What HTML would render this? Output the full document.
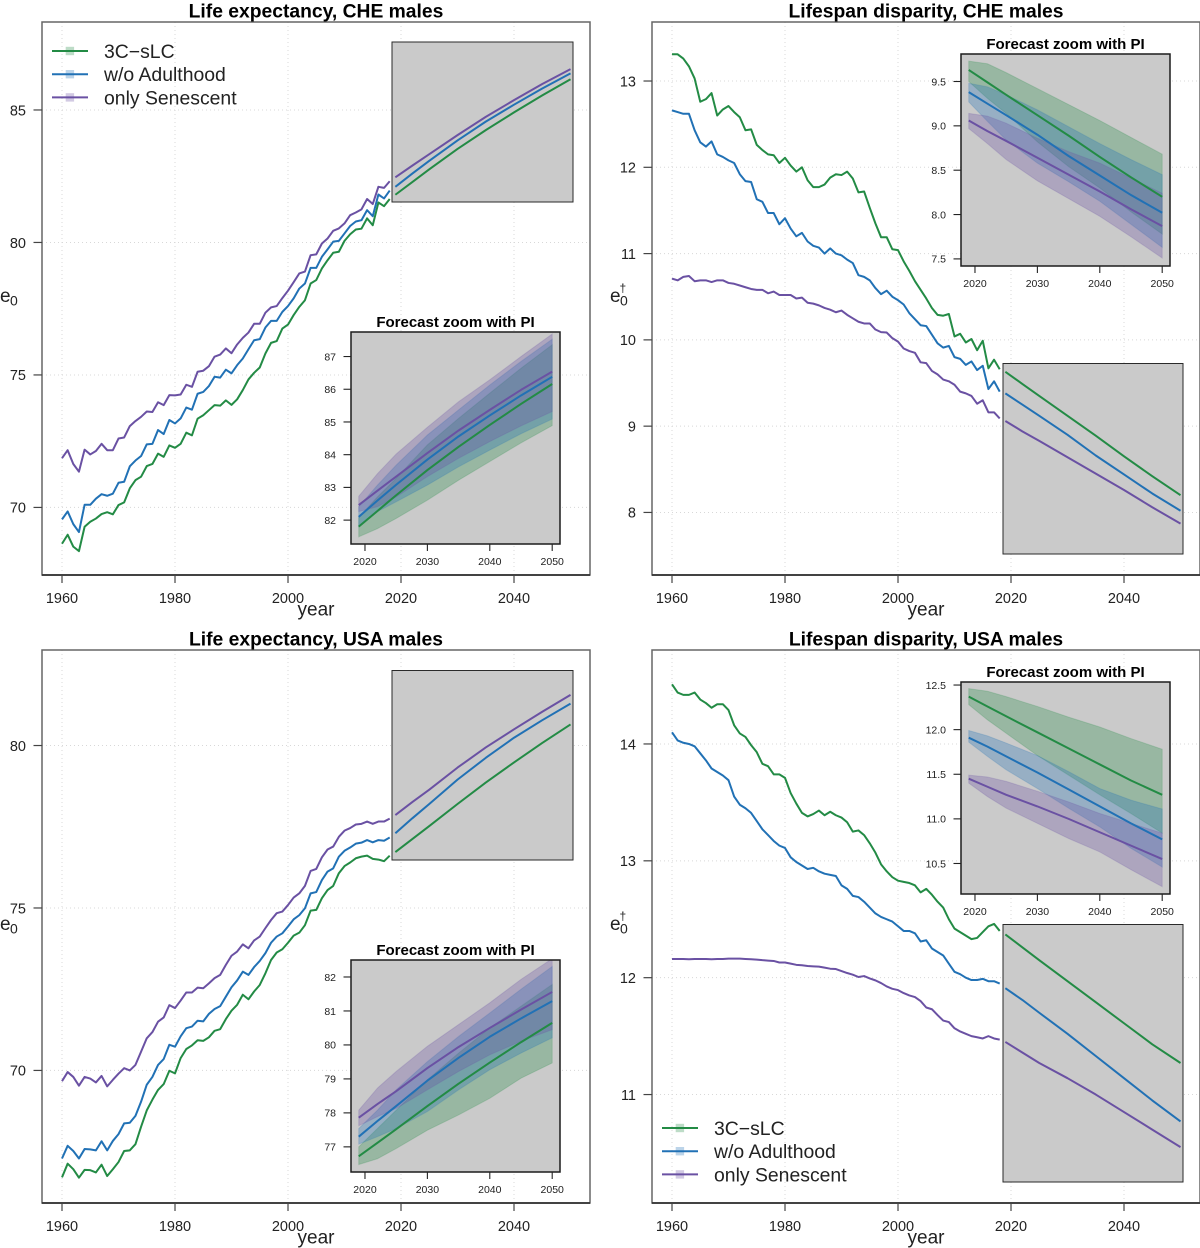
<!DOCTYPE html>
<html lang="en">
<head>
<meta charset="utf-8">
<title>Life expectancy and lifespan disparity forecasts</title>
<style>
  html, body { margin: 0; padding: 0; background: #fff; }
  svg { display: block; font-family: "Liberation Sans", Arial, sans-serif; }
</style>
</head>
<body>
<svg id="chart" xmlns="http://www.w3.org/2000/svg" width="1200" height="1248" viewBox="0 0 1200 1248"></svg>
<script>
// ---------- categories ----------
const historyYears = [
  1960,1961,1962,1963,1964,1965,1966,1967,1968,1969,
  1970,1971,1972,1973,1974,1975,1976,1977,1978,1979,
  1980,1981,1982,1983,1984,1985,1986,1987,1988,1989,
  1990,1991,1992,1993,1994,1995,1996,1997,1998,1999,
  2000,2001,2002,2003,2004,2005,2006,2007,2008,2009,
  2010,2011,2012,2013,2014,2015,2016,2017,2018];
const forecastYears = [2019,2022,2025,2030,2035,2040,2045,2050];
const seriesNames = ['3C\u2212sLC','w/o Adulthood','only Senescent'];

// ---------- tick labels ----------
const mainXTicks = [1960,1980,2000,2020,2040];
const insetXTicks = [2020,2030,2040,2050];
const cheE0Ticks = [70,75,80,85];
const cheDispTicks = [8,9,10,11,12,13];
const usaE0Ticks = [70,75,80];
const usaDispTicks = [11,12,13,14];
const cheE0InsetTicks = [82,83,84,85,86,87];
const cheDispInsetTicks = ['7.5','8.0','8.5','9.0','9.5'];
const usaE0InsetTicks = [77,78,79,80,81,82];
const usaDispInsetTicks = ['10.5','11.0','11.5','12.0','12.5'];

// ---------- Life expectancy, CHE: history ----------
const cheE0Green = [
  68.63,68.97,68.52,68.35,69.27,69.46,69.58,69.75,69.82,69.74,
  70.09,70.19,70.72,71.03,71.16,71.56,71.64,72.03,71.91,72.34,
  72.25,72.40,72.82,72.72,73.35,73.48,73.67,73.86,73.84,74.04,
  73.87,74.08,74.43,74.83,75.08,75.28,75.81,76.21,76.28,76.75,
  76.90,77.26,77.57,77.82,78.45,78.58,79.02,79.33,79.61,79.65,
  80.06,80.31,80.49,80.52,80.91,80.65,81.51,81.37,81.64];
const cheE0Blue = [
  69.55,69.85,69.37,69.07,70.10,70.10,70.33,70.50,70.44,70.52,
  70.93,70.97,71.55,71.77,71.94,72.38,72.40,72.92,72.77,73.30,
  73.17,73.36,73.77,73.69,74.29,74.36,74.58,74.93,74.90,75.20,
  75.06,75.37,75.62,75.97,76.31,76.35,76.79,77.04,77.04,77.38,
  77.60,77.89,78.26,78.45,79.04,79.04,79.46,79.74,80.03,80.06,
  80.34,80.62,80.79,80.84,81.22,80.99,81.81,81.66,81.96];
const cheE0Purple = [
  71.86,72.16,71.64,71.35,72.18,72.00,72.13,72.40,72.16,72.16,
  72.60,72.64,73.07,73.26,73.42,73.62,73.60,73.97,73.86,74.24,
  74.23,74.26,74.63,74.55,75.12,75.16,75.33,75.69,75.77,76.00,
  75.82,76.15,76.40,76.60,76.93,76.93,77.35,77.55,77.60,77.90,
  78.18,78.50,78.83,78.90,79.52,79.55,79.96,80.15,80.44,80.53,
  80.72,81.03,81.13,81.25,81.64,81.45,82.10,82.06,82.31];
// forecast and prediction intervals
const cheE0FcGreen = [81.80,82.28,82.76,83.53,84.24,84.91,85.55,86.16];
const cheE0FcBlue = [82.10,82.60,83.08,83.85,84.56,85.20,85.81,86.38];
const cheE0FcPurple = [82.46,82.90,83.33,84.05,84.74,85.37,85.98,86.54];
const cheE0HiGreen = [82.08,82.71,83.28,84.30,85.11,85.88,86.64,87.36];
const cheE0LoGreen = [81.49,81.74,82.05,82.61,83.22,83.79,84.36,84.89];
const cheE0HiBlue = [82.41,83.07,83.68,84.60,85.37,86.13,86.85,87.53];
const cheE0LoBlue = [81.80,82.26,82.56,83.07,83.63,84.14,84.64,85.09];
const cheE0HiPurple = [82.73,83.42,84.02,84.84,85.62,86.29,87.00,87.69];
const cheE0LoPurple = [82.26,82.41,82.71,83.33,83.89,84.40,84.88,85.32];

// ---------- Lifespan disparity, CHE: history ----------
const cheDispGreen = [
  13.31,13.31,13.26,13.17,13.03,12.76,12.79,12.86,12.60,12.67,
  12.71,12.64,12.58,12.43,12.44,12.26,12.20,12.15,12.14,12.05,
  12.11,12.02,11.95,12.00,11.85,11.77,11.77,11.80,11.88,11.92,
  11.91,11.95,11.87,11.71,11.72,11.53,11.35,11.19,11.19,11.05,
  11.04,10.91,10.80,10.68,10.58,10.48,10.37,10.29,10.28,10.30,
  10.04,10.07,9.97,10.01,9.88,9.99,9.67,9.77,9.66];
const cheDispBlue = [
  12.66,12.64,12.62,12.62,12.43,12.29,12.24,12.30,12.15,12.12,
  12.08,12.05,11.92,11.84,11.83,11.63,11.60,11.47,11.47,11.34,
  11.41,11.29,11.20,11.24,11.14,11.09,11.07,11.00,11.06,11.00,
  10.98,10.93,10.89,10.75,10.73,10.69,10.60,10.53,10.57,10.50,
  10.46,10.41,10.31,10.24,10.17,10.16,10.06,9.96,9.91,9.93,
  9.80,9.78,9.71,9.75,9.65,9.70,9.43,9.52,9.40];
const cheDispPurple = [
  10.71,10.69,10.73,10.74,10.68,10.69,10.69,10.67,10.69,10.69,
  10.66,10.65,10.63,10.61,10.59,10.58,10.58,10.54,10.56,10.52,
  10.52,10.52,10.48,10.49,10.43,10.42,10.40,10.37,10.35,10.32,
  10.34,10.29,10.25,10.21,10.19,10.19,10.12,10.09,10.085,10.02,
  9.98,9.90,9.87,9.85,9.74,9.73,9.64,9.60,9.54,9.52,
  9.48,9.40,9.38,9.35,9.26,9.30,9.16,9.16,9.09];
const cheDispFcGreen = [9.63,9.49,9.35,9.12,8.89,8.65,8.42,8.20];
const cheDispFcBlue = [9.38,9.25,9.12,8.90,8.66,8.44,8.22,8.02];
const cheDispFcPurple = [9.06,8.94,8.83,8.64,8.45,8.26,8.06,7.87];
const cheDispHiGreen = [9.73,9.70,9.60,9.42,9.24,9.06,8.87,8.68];
const cheDispLoGreen = [9.50,9.31,9.14,8.82,8.54,8.30,8.03,7.78];
const cheDispHiBlue = [9.48,9.44,9.35,9.18,8.99,8.80,8.62,8.45];
const cheDispLoBlue = [9.27,9.05,8.84,8.58,8.37,8.15,7.89,7.63];
const cheDispHiPurple = [9.14,9.11,9.03,8.86,8.71,8.58,8.41,8.24];
const cheDispLoPurple = [8.97,8.80,8.62,8.38,8.18,7.98,7.75,7.51];

// ---------- Life expectancy, USA: history ----------
const usaE0Green = [
  66.71,67.13,66.96,66.70,66.94,66.93,66.86,67.10,66.75,66.96,
  67.18,67.52,67.54,67.73,68.27,68.77,69.10,69.40,69.58,69.99,
  69.91,70.38,70.66,70.77,70.93,70.91,71.02,71.22,71.27,71.58,
  71.84,72.02,72.33,72.19,72.43,72.63,72.99,73.40,73.63,73.73,
  73.93,74.15,74.24,74.47,74.92,74.94,75.30,75.55,75.68,76.07,
  76.29,76.40,76.53,76.58,76.61,76.51,76.49,76.44,76.61];
const usaE0Blue = [
  67.29,67.68,67.52,67.29,67.58,67.57,67.54,67.82,67.54,67.83,
  68.04,68.37,68.39,68.60,69.04,69.56,69.80,70.17,70.35,70.79,
  70.73,71.05,71.30,71.35,71.53,71.51,71.74,71.89,71.98,72.27,
  72.56,72.77,73.04,72.94,73.18,73.37,73.61,73.93,74.12,74.22,
  74.43,74.65,74.78,74.99,75.45,75.49,75.86,76.12,76.22,76.58,
  76.76,76.86,76.98,77.01,77.09,77.02,77.09,77.07,77.17];
const usaE0Purple = [
  69.67,69.95,69.80,69.53,69.80,69.75,69.63,69.83,69.51,69.71,
  69.90,70.07,70.00,70.17,70.58,70.99,71.18,71.50,71.63,72.01,
  71.92,72.15,72.40,72.40,72.55,72.53,72.68,72.84,72.94,73.25,
  73.53,73.66,73.88,73.76,74.00,74.12,74.38,74.63,74.84,74.89,
  75.09,75.32,75.45,75.68,76.14,76.20,76.56,76.80,76.89,77.19,
  77.38,77.46,77.57,77.59,77.66,77.59,77.66,77.66,77.75];
const usaE0FcGreen = [76.72,77.12,77.52,78.20,78.86,79.48,80.08,80.65];
const usaE0FcBlue = [77.30,77.76,78.20,78.95,79.62,80.24,80.78,81.29];
const usaE0FcPurple = [77.86,78.26,78.64,79.32,79.94,80.50,81.04,81.56];
const usaE0HiGreen = [77.00,77.54,78.08,78.97,79.76,80.50,81.14,81.78];
const usaE0LoGreen = [76.48,76.65,76.95,77.49,77.94,78.43,79.02,79.47];
const usaE0HiBlue = [77.54,78.08,78.68,79.51,80.25,80.94,81.64,82.31];
const usaE0LoBlue = [77.08,77.30,77.54,78.04,78.68,79.27,79.76,80.21];
const usaE0HiPurple = [78.08,78.73,79.22,79.96,80.60,81.24,81.93,82.54];
const usaE0LoPurple = [77.62,77.89,78.13,78.68,79.22,79.71,80.11,80.45];

// ---------- Lifespan disparity, USA: history ----------
const usaDispGreen = [
  14.51,14.44,14.42,14.42,14.44,14.38,14.35,14.31,14.34,14.34,
  14.29,14.16,14.09,14.06,13.99,13.93,13.83,13.81,13.74,13.74,
  13.71,13.58,13.49,13.41,13.38,13.40,13.43,13.39,13.42,13.39,
  13.37,13.33,13.25,13.26,13.22,13.15,13.07,12.97,12.91,12.86,
  12.83,12.82,12.81,12.79,12.73,12.76,12.71,12.65,12.60,12.50,
  12.42,12.39,12.36,12.33,12.34,12.39,12.44,12.46,12.40];
const usaDispBlue = [
  14.10,14.03,14.01,14.00,13.98,13.92,13.86,13.79,13.76,13.73,
  13.69,13.55,13.48,13.45,13.41,13.34,13.27,13.22,13.17,13.13,
  13.11,13.03,12.99,12.96,12.93,12.94,12.91,12.89,12.88,12.87,
  12.79,12.76,12.70,12.69,12.65,12.60,12.55,12.52,12.50,12.48,
  12.44,12.40,12.40,12.38,12.31,12.32,12.25,12.22,12.19,12.12,
  12.05,12.03,12.00,11.98,11.98,11.99,11.97,11.97,11.95];
const usaDispPurple = [
  12.16,12.16,12.16,12.158,12.16,12.16,12.16,12.158,12.16,12.16,
  12.163,12.163,12.163,12.16,12.158,12.155,12.15,12.146,12.143,12.13,
  12.13,12.12,12.11,12.106,12.10,12.097,12.095,12.086,12.077,12.074,
  12.057,12.04,12.026,12.006,12.014,11.994,11.977,11.954,11.925,11.905,
  11.894,11.868,11.848,11.834,11.80,11.745,11.73,11.68,11.633,11.62,
  11.567,11.54,11.52,11.50,11.49,11.48,11.50,11.48,11.47];
const usaDispFcGreen = [12.37,12.26,12.15,11.97,11.79,11.61,11.43,11.27];
const usaDispFcBlue = [11.91,11.81,11.70,11.52,11.33,11.14,10.95,10.77];
const usaDispFcPurple = [11.45,11.36,11.27,11.14,11.00,10.85,10.70,10.55];
const usaDispHiGreen = [12.46,12.43,12.37,12.26,12.14,12.03,11.90,11.78];
const usaDispLoGreen = [12.28,12.11,11.96,11.71,11.49,11.27,11.06,10.84];
const usaDispHiBlue = [11.99,11.93,11.85,11.71,11.53,11.34,11.21,11.11];
const usaDispLoBlue = [11.86,11.70,11.55,11.34,11.12,10.91,10.67,10.46];
const usaDispHiPurple = [11.49,11.47,11.42,11.31,11.19,11.06,10.95,10.84];
const usaDispLoPurple = [11.40,11.25,11.12,10.95,10.78,10.63,10.43,10.24];

// ---------- drawing ----------
const COLORS = ['#238b45', '#2171b5', '#6a51a3'];
const SLUGS = ['3c-slc', 'without-adulthood', 'only-senescent'];
const NS = 'http://www.w3.org/2000/svg';
const root = document.getElementById('chart');

function make(parent, tag, props, text) {
  const el = document.createElementNS(NS, tag);
  for (const k in props) el.setAttribute(k, props[k]);
  if (text !== undefined) el.textContent = text;
  parent.appendChild(el);
  return el;
}
function linear(d0, d1, r0, r1) {
  return v => r0 + (Number(v) - d0) * (r1 - r0) / (d1 - d0);
}
function pathOf(xs, ys, sx, sy) {
  return xs.map((x, i) => (i ? 'L' : 'M') + sx(x).toFixed(2) + ' ' + sy(ys[i]).toFixed(2)).join('');
}
function bandOf(xs, hi, lo, sx, sy) {
  const up = xs.map((x, i) => (i ? 'L' : 'M') + sx(x).toFixed(2) + ' ' + sy(hi[i]).toFixed(2)).join('');
  const down = xs.slice().reverse().map((x, i) => 'L' + sx(x).toFixed(2) + ' ' + sy(lo[xs.length - 1 - i]).toFixed(2)).join('');
  return up + down + 'Z';
}

function drawPanel(p) {
  const g = make(root, 'g', {});
  
  

  const sx = linear(1956.46, 2053.45, p.box[0], p.box[2]);
  const sy = linear(p.yDomain[0], p.yDomain[1], p.box[3], p.box[1]);

  // grid
  mainXTicks.forEach(t => {
    const el = make(g, 'line', {x1: sx(t), x2: sx(t), y1: p.box[1], y2: p.box[3], stroke: '#d8d8d8', 'stroke-width': 1, 'stroke-dasharray': '1 3'});
    
    
  });
  p.yTicks.forEach(t => {
    const el = make(g, 'line', {x1: p.box[0], x2: p.box[2], y1: sy(t), y2: sy(t), stroke: '#d8d8d8', 'stroke-width': 1, 'stroke-dasharray': '1 3'});
    
    
  });

  // history lines
  p.history.forEach((vals, i) => {
    const el = make(g, 'path', {d: pathOf(historyYears, vals, sx, sy), fill: 'none', stroke: COLORS[i], 'stroke-width': 2, 'stroke-linejoin': 'round'});
    
    
  });

  // grey forecast rectangle
  const gr = make(g, 'rect', {x: p.grey[0], y: p.grey[1], width: p.grey[2] - p.grey[0], height: p.grey[3] - p.grey[1], fill: '#cacaca', stroke: '#2a2a2a', 'stroke-width': 1});
  
  

  // forecast lines in main coordinates
  p.forecast.forEach((vals, i) => {
    const el = make(g, 'path', {d: pathOf(forecastYears, vals, sx, sy), fill: 'none', stroke: COLORS[i], 'stroke-width': 2, 'stroke-linejoin': 'round'});
    
    
  });

  // frame and axes
  const frame = make(g, 'rect', {x: p.box[0], y: p.box[1], width: p.box[2] - p.box[0], height: p.box[3] - p.box[1], fill: 'none', stroke: '#666', 'stroke-width': 1.5});
  
  
  const xAxis = make(g, 'line', {x1: p.box[0], x2: p.box[2], y1: p.box[3], y2: p.box[3], stroke: '#333', 'stroke-width': 1.7});
  
  

  mainXTicks.forEach(t => {
    const tick = make(g, 'line', {x1: sx(t), x2: sx(t), y1: p.box[3], y2: p.box[3] + 8, stroke: '#444', 'stroke-width': 1.2});
    
    
    const lab = make(g, 'text', {x: sx(t), y: p.box[3] + 28, 'text-anchor': 'middle', 'font-size': 14.5, fill: '#222'}, t);
    
    
  });
  p.yTicks.forEach(t => {
    const tick = make(g, 'line', {x1: p.box[0] - 8.5, x2: p.box[0], y1: sy(t), y2: sy(t), stroke: '#444', 'stroke-width': 1.2});
    
    
    const lab = make(g, 'text', {x: p.box[0] - 16, y: sy(t) + 5.3, 'text-anchor': 'end', 'font-size': 14.5, fill: '#222'}, t);
    
    
  });

  // titles
  const title = make(g, 'text', {x: (p.box[0] + p.box[2]) / 2, y: p.box[1] - 4.5, 'text-anchor': 'middle', 'font-size': 19.3, 'font-weight': 'bold', fill: '#000'}, p.title);
  
  
  const xt = make(g, 'text', {x: (p.box[0] + p.box[2]) / 2, y: p.box[3] + 40.5, 'text-anchor': 'middle', 'font-size': 19, fill: '#222'}, 'year');
  
  

  // y-axis title: e with subscript 0, plus dagger on disparity panels
  const lx = p.box[0] - 42;
  const ly = p.labelY;
  const e = make(g, 'text', {x: lx, y: ly, 'font-size': 19, fill: '#222'}, 'e');
  
  
  const sub = make(g, 'text', {x: lx + 10, y: ly + 3.5, 'font-size': 14, fill: '#222'}, '0');
  
  
  if (p.dagger) {
    const d = make(g, 'text', {x: lx + 9.5, y: ly - 10, 'font-size': 12, fill: '#222'}, '\u2020');
    
    
  }

  drawInset(g, p);
  if (p.legend) drawLegend(g, p);
}

function drawInset(g, p) {
  const b = p.inset.box;
  const sx = linear(2017.76, 2051.25, b[0], b[2]);
  const sy = linear(p.inset.yDomain[0], p.inset.yDomain[1], b[3], b[1]);
  const ig = make(g, 'g', {});
  
  

  const bg = make(ig, 'rect', {x: b[0], y: b[1], width: b[2] - b[0], height: b[3] - b[1], fill: '#cacaca'});
  
  

  const clipId = p.slug + '-inset-clip';
  const clip = make(ig, 'clipPath', {id: clipId});
  make(clip, 'rect', {x: b[0], y: b[1], width: b[2] - b[0], height: b[3] - b[1]});

  const marks = make(ig, 'g', {'clip-path': 'url(#' + clipId + ')'});
  p.inset.hi.forEach((hi, i) => {
    const el = make(marks, 'path', {d: bandOf(forecastYears, hi, p.inset.lo[i], sx, sy), fill: COLORS[i], 'fill-opacity': 0.3, stroke: COLORS[i], 'stroke-opacity': 0.2, 'stroke-width': 1});
    
    
  });
  p.forecast.forEach((vals, i) => {
    const el = make(marks, 'path', {d: pathOf(forecastYears, vals, sx, sy), fill: 'none', stroke: COLORS[i], 'stroke-width': 2, 'stroke-linejoin': 'round'});
    
    
  });

  const border = make(ig, 'rect', {x: b[0], y: b[1], width: b[2] - b[0], height: b[3] - b[1], fill: 'none', stroke: '#1c1c1c', 'stroke-width': 1.5});
  
  

  insetXTicks.forEach(t => {
    const tick = make(ig, 'line', {x1: sx(t), x2: sx(t), y1: b[3], y2: b[3] + 7, stroke: '#222', 'stroke-width': 1.1});
    
    
    const lab = make(ig, 'text', {x: sx(t), y: b[3] + 21, 'text-anchor': 'middle', 'font-size': 10.5, fill: '#222'}, t);
    
    
  });
  p.inset.yTicks.forEach(t => {
    const tick = make(ig, 'line', {x1: b[0] - 7.5, x2: b[0], y1: sy(t), y2: sy(t), stroke: '#222', 'stroke-width': 1.1});
    
    
    const lab = make(ig, 'text', {x: b[0] - 15, y: sy(t) + 3.8, 'text-anchor': 'end', 'font-size': 10.5, fill: '#222'}, t);
    
    
  });
  const title = make(ig, 'text', {x: (b[0] + b[2]) / 2, y: b[1] - 5, 'text-anchor': 'middle', 'font-size': 15, 'font-weight': 'bold', fill: '#000'}, 'Forecast zoom with PI');
  
  
}

function drawLegend(g, p) {
  const lg = make(g, 'g', {});
  
  
  seriesNames.forEach((name, i) => {
    const y = p.legend.y + i * 23.2;
    const sw = make(lg, 'rect', {x: p.legend.x + 13.7, y: y - 4.2, width: 8.4, height: 8.4, fill: COLORS[i], 'fill-opacity': 0.3});
    
    
    const ln = make(lg, 'line', {x1: p.legend.x, x2: p.legend.x + 36, y1: y, y2: y, stroke: COLORS[i], 'stroke-width': 2});
    
    
    const tx = make(lg, 'text', {x: p.legend.x + 52, y: y + 7, 'font-size': 19.4, fill: '#222'}, name);
    
    
  });
}

drawPanel({
  slug: 'che-life-expectancy', title: 'Life expectancy, CHE males',
  box: [42, 22, 590, 575], yDomain: [67.45, 88.32], yTicks: cheE0Ticks,
  labelY: 302, dagger: false,
  grey: [392, 42, 573, 202],
  history: [cheE0Green, cheE0Blue, cheE0Purple],
  forecast: [cheE0FcGreen, cheE0FcBlue, cheE0FcPurple],
  inset: { box: [351, 332, 560, 544], yDomain: [81.27, 87.75], yTicks: cheE0InsetTicks,
    hi: [cheE0HiGreen, cheE0HiBlue, cheE0HiPurple], lo: [cheE0LoGreen, cheE0LoBlue, cheE0LoPurple] },
  legend: { x: 52, y: 51 }
});
drawPanel({
  slug: 'che-lifespan-disparity', title: 'Lifespan disparity, CHE males',
  box: [652, 22, 1200, 575], yDomain: [7.275, 13.684], yTicks: cheDispTicks,
  labelY: 302, dagger: true,
  grey: [1003, 363.5, 1183, 554],
  history: [cheDispGreen, cheDispBlue, cheDispPurple],
  forecast: [cheDispFcGreen, cheDispFcBlue, cheDispFcPurple],
  inset: { box: [961, 54, 1170, 266], yDomain: [7.42, 9.81], yTicks: cheDispInsetTicks,
    hi: [cheDispHiGreen, cheDispHiBlue, cheDispHiPurple], lo: [cheDispLoGreen, cheDispLoBlue, cheDispLoPurple] }
});
drawPanel({
  slug: 'usa-life-expectancy', title: 'Life expectancy, USA males',
  box: [42, 650, 590, 1203], yDomain: [65.92, 82.94], yTicks: usaE0Ticks,
  labelY: 930, dagger: false,
  grey: [392, 670.5, 573, 860],
  history: [usaE0Green, usaE0Blue, usaE0Purple],
  forecast: [usaE0FcGreen, usaE0FcBlue, usaE0FcPurple],
  inset: { box: [351, 960, 560, 1172], yDomain: [76.26, 82.5], yTicks: usaE0InsetTicks,
    hi: [usaE0HiGreen, usaE0HiBlue, usaE0HiPurple], lo: [usaE0LoGreen, usaE0LoBlue, usaE0LoPurple] }
});
drawPanel({
  slug: 'usa-lifespan-disparity', title: 'Lifespan disparity, USA males',
  box: [652, 650, 1200, 1203], yDomain: [10.072, 14.804], yTicks: usaDispTicks,
  labelY: 930, dagger: true,
  grey: [1003, 924.5, 1183, 1182],
  history: [usaDispGreen, usaDispBlue, usaDispPurple],
  forecast: [usaDispFcGreen, usaDispFcBlue, usaDispFcPurple],
  inset: { box: [961, 682, 1170, 894], yDomain: [10.158, 12.534], yTicks: usaDispInsetTicks,
    hi: [usaDispHiGreen, usaDispHiBlue, usaDispHiPurple], lo: [usaDispLoGreen, usaDispLoBlue, usaDispLoPurple] },
  legend: { x: 662, y: 1128 }
});
</script>
</body>
</html>
